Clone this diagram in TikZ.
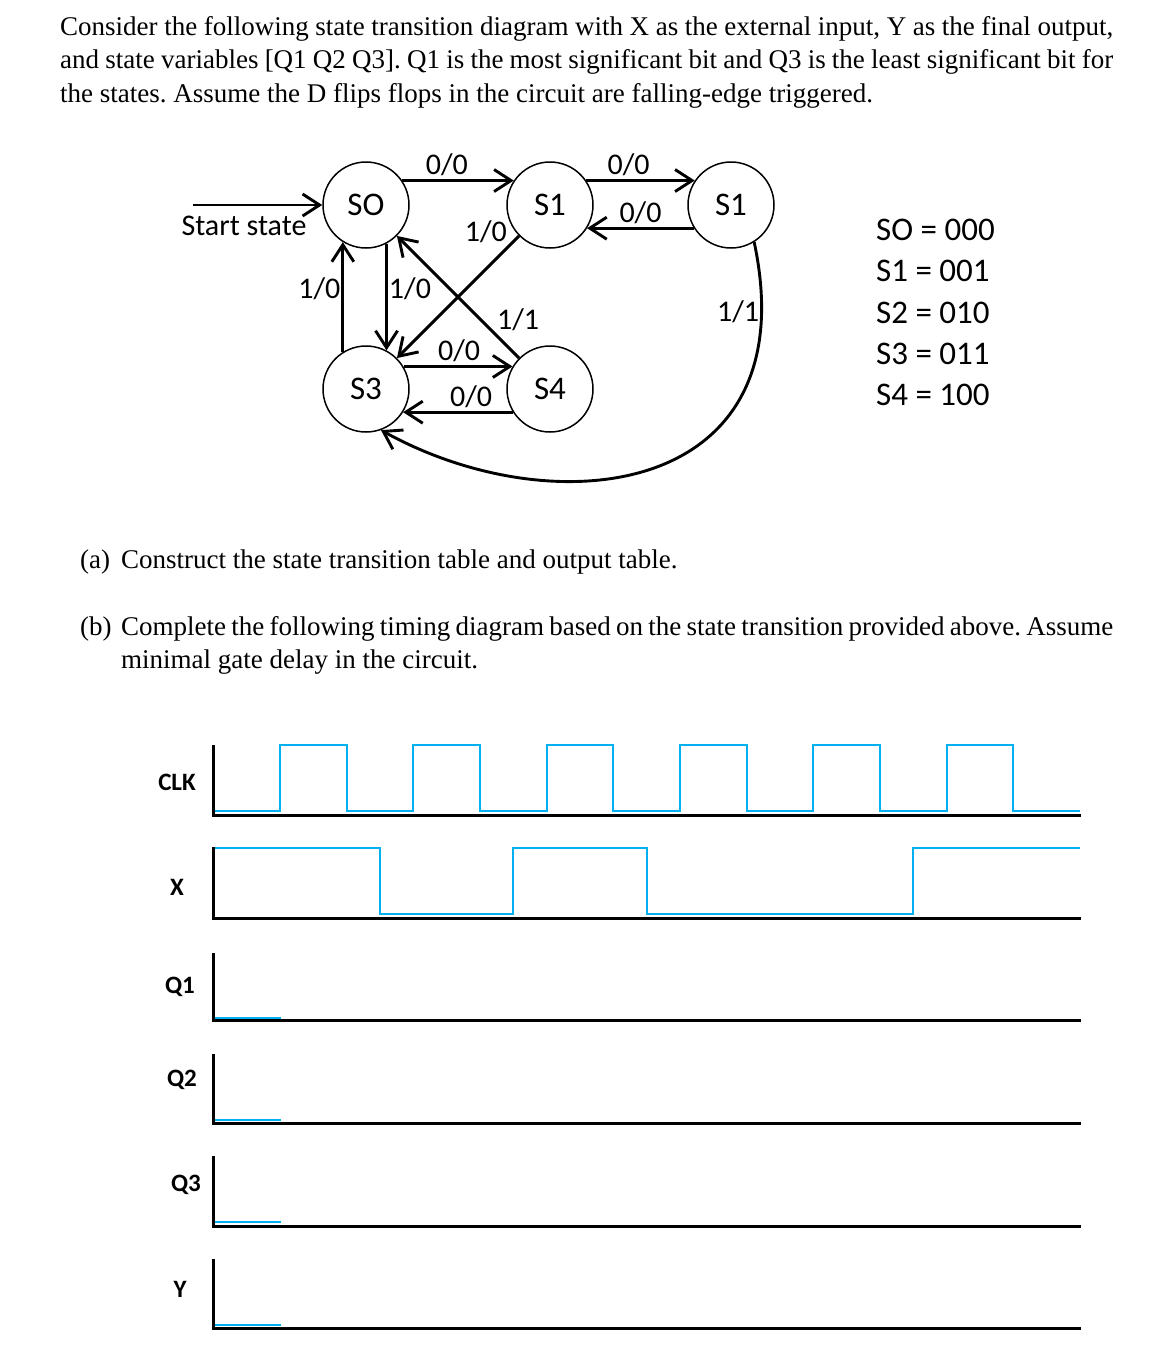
\documentclass[tikz,border=0pt]{standalone}
\usepackage{fontspec}
\setmainfont{Liberation Serif}
\newfontfamily\calfont{Carlito}
\usetikzlibrary{arrows.meta}
\definecolor{wave}{RGB}{0,176,240}
\frenchspacing

\begin{document}
\begin{tikzpicture}[x=1pt,y=1pt,
    txt/.style={anchor=base west,inner sep=0pt,font=\fontsize{27}{33.5}\selectfont},
    para/.style={txt,align=justify},
    state/.style={draw,circle,line width=1.5pt,minimum size=86pt,inner sep=0pt,font=\calfont\fontsize{33}{36}\selectfont},
    arr/.style={line width=2.9pt,-{Straight Barb[length=17pt,width=22pt]}},
    lbl/.style={font=\calfont\fontsize{30}{32}\selectfont,inner sep=1pt},
    axis/.style={line width=3pt},
    sig/.style={wave,line width=2pt},
    tname/.style={font=\calfont\bfseries\fontsize{25}{28}\selectfont}]
  \useasboundingbox (0,0) rectangle (1160,-1358);
  \hyphenpenalty=10000

  \node[para,text width=1053pt] (intro) at (60,-35) {Consider the following state transition diagram with X as the external input, Y as the final output,\linebreak and state variables [Q1 Q2 Q3]. Q1 is the most significant bit and Q3 is the least significant bit for\linebreak the states. Assume the D flips flops in the circuit are falling-edge triggered.};

  \node[state] (s0) at (366,-205) {SO};
  \node[state] (s1) at (550,-205) {S1};
  \node[state] (s1b) at (731,-205) {S1};
  \node[state] (s3) at (366,-389) {S3};
  \node[state] (s4) at (550,-389) {S4};
  \coordinate (start) at (193,-205);
  \node[lbl] (startlbl) at (244,-226) {Start state};

  \draw[arr] (start) -- (s0);
  \draw[arr] (s0.34) -- (s1.146) node[lbl,above,pos=0.4,yshift=2pt] (e1) {0/0};
  \draw[arr] (s1.34) -- (s1b.146) node[lbl,above,pos=0.39,yshift=2pt] (e2) {0/0};
  \draw[arr] (s1b.212) -- (s1.-32) node[lbl,above,pos=0.5,yshift=2pt] (e3) {0/0};
  \draw[arr] (s1) -- (s3) node[lbl,anchor=south east,pos=0.08] (e4) {1/0};
  \draw[arr] (s4) -- (s0) node[lbl,anchor=south west,pos=0.2] (e5) {1/1};
  \draw[arr] (s3.122) -- (s0.238) node[lbl,left,pos=0.58] (e6) {1/0};
  \draw[arr] (s0.-62) -- (s3.62) node[lbl,right,pos=0.42] (e7) {1/0};
  \draw[arr] (s3.31) -- (s4.149) node[lbl,above,pos=0.51,yshift=2pt] (e8) {0/0};
  \draw[arr] (s4.212) -- (s3.-32) node[lbl,above,pos=0.38,yshift=2pt] (e9) {0/0};
  \draw[arr] (s1b.-58) to[out=-78,in=-29,out distance=260pt,in distance=200pt] node[lbl,left,pos=0.1] (e10) {1/1} (s3.-70);

  \foreach \nm/\bits [count=\i from 0] in {SO/000,S1/001,S2/010,S3/011,S4/100}
    \node[lbl,anchor=west,font=\calfont\fontsize{33}{36}\selectfont] (enc\i) at (875,{-230-41.25*\i}) {\nm{} = \bits};

  \node[txt] (alabel) at (80,-568) {(a)};
  \node[para,text width=992pt] (atext) at (121,-568) {Construct the state transition table and output table.};
  \node[txt] (blabel) at (80,-635) {(b)};
  \node[para,text width=992pt] (btext) at (121,-635) {Complete the following timing diagram based on the state transition provided above. Assume\linebreak minimal gate delay in the circuit.};

  \foreach \nm/\ytop/\ybot/\lx/\ly in {CLK/745/815/177/782, X/847/918/177/887, Q1/953/1020/180/987, Q2/1054/1123/182/1080, Q3/1156/1226/186/1185, Y/1259/1328/180/1289} {
    \node[tname] (t\nm) at (\lx,-\ly) {\nm};
    \draw[axis] (213,-\ytop) -- (213,-\ybot) -- (1081,-\ybot);
  }
  \draw[sig] (215,-811) -- (280,-811) \foreach \k in {0,...,5} { |- ({346.67+133.33*\k},-745) |- ({413.33+133.33*\k},-811) };
  \draw[sig] (215,-848) -| (380,-914) -| (513,-848) -| (647,-914) -| (913,-848) -- (1080,-848);
  \foreach \yb in {1018,1120,1222,1325}
    \draw[sig] (215,-\yb) -- (281,-\yb);
\end{tikzpicture}
\end{document}
